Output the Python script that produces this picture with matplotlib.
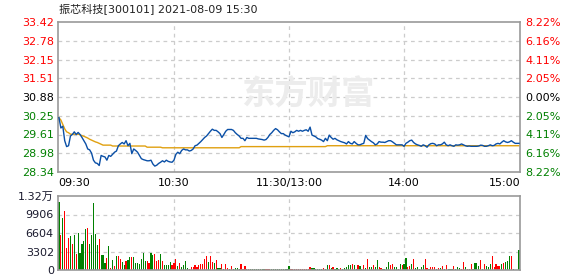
import numpy as np
import matplotlib.pyplot as plt

plt.rcParams['font.family'] = ['DejaVu Sans', 'Noto Sans CJK SC']

# 分时价格 (09:30-11:30, 13:00-15:00, 每分钟一个点)
price = [
    30.18, 29.83, 29.89, 29.40, 29.20, 29.23, 29.56, 29.61, 29.70, 29.61,
    29.68, 29.61, 29.51, 29.40, 29.29, 29.12, 29.09, 28.98, 28.74, 28.65,
    28.63, 28.56, 28.90, 28.87, 28.85, 28.74, 28.90, 28.87, 28.94, 29.01,
    29.05, 29.23, 29.29, 29.34, 29.29, 29.40, 29.23, 29.31, 28.96, 29.12,
    29.07, 29.01, 28.90, 28.79, 28.76, 28.74, 28.72, 28.72, 28.74, 28.61,
    28.54, 28.57, 28.63, 28.67, 28.72, 28.68, 28.74, 28.70, 28.68, 28.67,
    28.74, 28.94, 29.01, 28.96, 29.07, 29.12, 29.09, 29.09, 29.05, 29.07,
    29.12, 29.23, 29.25, 29.31, 29.37, 29.44, 29.51, 29.56, 29.64, 29.72,
    29.79, 29.75, 29.75, 29.70, 29.64, 29.51, 29.61, 29.72, 29.78, 29.78,
    29.78, 29.75, 29.67, 29.61, 29.56, 29.48, 29.48, 29.40, 29.51, 29.48,
    29.48, 29.48, 29.48, 29.48, 29.46, 29.45, 29.44, 29.42, 29.44, 29.51,
    29.61, 29.67, 29.75, 29.81, 29.77, 29.70, 29.64, 29.64, 29.59, 29.56,
    29.53, 29.72, 29.67, 29.70, 29.75, 29.72, 29.75, 29.72, 29.75, 29.77,
    29.72, 29.86, 29.59, 29.56, 29.53, 29.47, 29.45, 29.42, 29.37, 29.48,
    29.40, 29.59, 29.51, 29.45, 29.48, 29.43, 29.40, 29.37, 29.35, 29.33,
    29.29, 29.37, 29.31, 29.29, 29.37, 29.31, 29.26, 29.26, 29.29, 29.31,
    29.58, 29.47, 29.42, 29.37, 29.33, 29.26, 29.29, 29.37, 29.35, 29.35,
    29.34, 29.37, 29.40, 29.40, 29.36, 29.31, 29.26, 29.26, 29.26, 29.26,
    29.21, 29.31, 29.35, 29.40, 29.42, 29.34, 29.29, 29.26, 29.24, 29.21,
    29.26, 29.23, 29.18, 29.26, 29.30, 29.31, 29.29, 29.23, 29.26, 29.26,
    29.29, 29.35, 29.26, 29.23, 29.26, 29.23, 29.21, 29.26, 29.25, 29.26,
    29.29, 29.26, 29.23, 29.21, 29.22, 29.21, 29.21, 29.21, 29.21, 29.22,
    29.25, 29.24, 29.21, 29.21, 29.23, 29.26, 29.23, 29.24, 29.29, 29.31,
    29.29, 29.35, 29.40, 29.36, 29.34, 29.36, 29.40, 29.35, 29.31, 29.31,
    29.31,
]

# 均价线
avg_price = ([30.18, 30.10, 29.95, 29.80, 29.70, 29.67, 29.62, 29.62, 29.62, 29.62,
              29.62, 29.60, 29.57, 29.55, 29.52, 29.49, 29.45, 29.42, 29.39, 29.36,
              29.34, 29.31, 29.28, 29.25, 29.25, 29.25, 29.25, 29.25]
             + [29.22] * 18 + [29.18] * 8 + [29.16] * 41
             + [29.20] * 45 + [29.23] * 101)

# 成交量 (手)
vol_am1 = [
    12138, 6248, 9282, 10532, 3927, 5712, 6129, 4641, 6248, 2856,
    6605, 3035, 4641, 5177, 7319, 7497, 4641, 6248, 11960, 6426,
    4463, 5534, 2678, 2678, 1250, 2142, 4284, 357, 1785, 714,
    2499, 2499, 1964, 1428, 893, 1607, 1785, 2321, 2321, 2321,
    1250, 1250, 1071, 1964, 3035, 1607, 1607, 1250, 3035, 2678,
    2856, 1607, 1785, 2856, 1607, 893, 893, 893, 1428, 893,
    1250, 1964, 714, 1250, 536, 893, 1607, 357, 179, 536,
    536, 893, 536, 893, 1071, 1071, 1964, 2499, 1428, 2499,
]
vol_mid = [
    1428, 1250, 1785, 357, 357, 1071, 179, 1071, 357, 179,
    714, 179, 357, 357, 179, 1071, 179, 714, 179, 179,
    179, 179, 179, 179, 179, 179, 179, 179, 179, 179,
    179, 179, 179, 179, 179, 179, 179, 179, 179, 179,
    714, 179, 179, 179, 179, 179, 179, 179, 179, 179,
    179, 536, 357, 357, 179, 179, 179, 179, 357, 179,
    893, 893, 357, 536, 179, 357, 179, 357, 179, 357,
    536, 893, 893, 1071, 893, 179, 893, 714, 179, 893,
    357,
]
vol_pm2 = [
    1964, 536, 536, 893, 536, 1785, 536, 357, 179, 179,
    536, 1428, 893, 1071, 536, 536, 179, 1071, 893, 1071,
    2142, 536, 714, 1071, 1964, 357, 536, 179, 536, 893,
    1964, 357, 179, 536, 536, 536, 179, 357, 357, 714,
    179, 893, 179, 179, 179, 714, 179, 536, 357, 179,
    1428, 536, 179, 179, 1071, 179, 1250, 1250, 714, 1785,
    179, 1071, 714, 536, 1071, 2499, 536, 1071, 714, 714,
    1071, 1250, 1428, 1607, 2499, 2499, 179, 0, 0, 3570,
]
volume = vol_am1 + vol_mid + vol_pm2
# r = 上涨, g = 下跌
vol_dir = ("grgrrrgrgr" "gggggrgggg" "grgggrgrgr" "grrggrggrg" "ggggggrrgg"
           "rrrgrggggr" "rrgrggggrr" "rrrrrrrrgr"
           "rgrggrgrrg" "rggggrrrgr" "ggggggggrr" "rggggggggg" "grrrrrrrrr"
           "rrggggggrg" "grgrgggrgg" "gggrggrggr" "g"
           "rggrggrrgg" "ggrrggrgrg" "grrgrggggg" "rrgrrrgrgr" "grgggrgggr"
           "rgrgrggggr" "grgggrrrrr" "grgggrgggg")

pre_close = 30.88
price_ticks = [28.34, 28.98, 29.61, 30.25, 30.88, 31.51, 32.15, 32.78, 33.42]
pct_labels = ['8.22%', '6.16%', '4.11%', '2.05%', '0.00%',
              '2.05%', '4.11%', '6.16%', '8.22%']
vol_ticks = [0, 3302, 6604, 9906, 13208]
vol_labels = ['0', '3302', '6604', '9906', '1.32万']
time_pos = [-0.5, 60, 120, 180, 240.5]
time_labels = ['09:30', '10:30', '11:30/13:00', '14:00', '15:00']

RED = '#ff0000'
GREEN = '#008000'
frame = '#999999'
gridc = '#cccccc'

def lbl_color(v):
    if abs(v - pre_close) < 0.005:
        return 'black'
    return RED if v > pre_close else GREEN

x = np.arange(len(price))

fig = plt.figure(figsize=(5.78, 2.76), dpi=100)
ax = fig.add_axes([58/578, 1-172/276, 462/578, 150/276])
axv = fig.add_axes([58/578, 1-270/276, 462/578, 74/276])

for a in (ax, axv):
    a.set_xlim(-0.5, 240.5)
    for s in a.spines.values():
        s.set_color(frame)
        s.set_linewidth(1.2)
    a.tick_params(length=0)
    a.set_axisbelow(True)
    for xv in [60, 120, 180]:
        a.axvline(xv, color=gridc, lw=0.9, ls=(0, (3, 3)), zorder=0)

# 价格图
ax.set_ylim(price_ticks[0], price_ticks[-1])
for yv in price_ticks[1:-1]:
    ax.axhline(yv, color=gridc, lw=0.9, ls=(0, (3, 3)), zorder=0)
ax.text(0.54, 0.51, '东方财富', transform=ax.transAxes, ha='center', va='center',
        fontsize=24, fontweight='bold', color='#ececec',
        family=['Noto Sans CJK SC'], style='italic', zorder=0)
ax.plot(x, avg_price, color='#e0a010', lw=1.0, zorder=2)
ax.plot(x, price, color='#0a4fa6', lw=1.0, zorder=3)

ax.set_yticks(price_ticks)
ax.set_yticklabels([f'{v:.2f}' for v in price_ticks], fontsize=8)
for t, v in zip(ax.get_yticklabels(), price_ticks):
    t.set_color(lbl_color(v))
ax.tick_params(axis='y', pad=3)

ax2 = ax.twinx()
ax2.set_ylim(ax.get_ylim())
ax2.set_yticks(price_ticks)
ax2.set_yticklabels(pct_labels, fontsize=8)
for t, v in zip(ax2.get_yticklabels(), price_ticks):
    t.set_color(lbl_color(v))
ax2.tick_params(length=0, pad=4)
for s in ax2.spines.values():
    s.set_visible(False)

ax.set_xticks(time_pos)
ax.set_xticklabels(time_labels, fontsize=8)
xt = ax.get_xticklabels()
xt[0].set_ha('left')
xt[-1].set_ha('right')
ax.tick_params(axis='x', pad=4)

fig.text(59/578, 1-9/276, '振芯科技[300101] 2021-08-09 15:30', fontsize=8,
         ha='left', va='center', color='#222222')

# 成交量
cols = [RED if c == 'r' else GREEN for c in vol_dir]
axv.bar(x, volume, width=0.62, color=cols, linewidth=0, antialiased=False, zorder=2)
axv.set_ylim(0, vol_ticks[-1])
for yv in vol_ticks[1:-1]:
    axv.axhline(yv, color=gridc, lw=0.9, ls=(0, (3, 3)), zorder=0)
axv.set_yticks(vol_ticks)
axv.set_yticklabels(vol_labels, fontsize=8, color='#1a1a2e')
axv.tick_params(axis='y', pad=3)
axv.set_xticks([])

fig.savefig('out.png', dpi=100)
